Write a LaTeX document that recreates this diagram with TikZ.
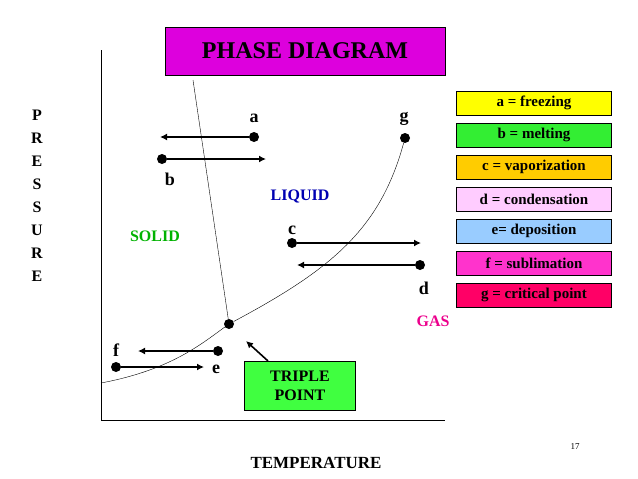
\documentclass[tikz,border=0pt]{standalone}
\usepackage{fontspec}
\setmainfont{Liberation Serif}
\usetikzlibrary{arrows.meta}
\tikzset{
 lbl/.style={font=\bfseries\fontsize{18}{20}\selectfont},
 leg/.style={draw,minimum width=155pt,minimum height=24pt,inner sep=0pt,font=\bfseries\fontsize{15}{17}\selectfont},
 dot/.style={circle,fill,inner sep=0pt,minimum size=10pt},
 arr/.style={-{Latex[length=7pt,width=7pt]},line width=1.6pt},
}
\begin{document}
\begin{tikzpicture}[x=1pt,y=-1pt]
\useasboundingbox (0,0) rectangle (638,479);
\definecolor{tc}{HTML}{DD00DD}
\node[draw,fill=tc,minimum width=280pt,minimum height=48pt,font=\bfseries\fontsize{24}{26}\selectfont] (title) at (305,51) {PHASE DIAGRAM};
\coordinate (ytop) at (101,50); \coordinate (o) at (101,420); \coordinate (xend) at (445,420);
\draw (ytop) -- (o) -- (xend);
\node[align=center,font=\bfseries\fontsize{16}{23}\selectfont] (pres) at (37,196) {P\\R\\E\\S\\S\\U\\R\\E};
\node[font=\bfseries\fontsize{17}{19}\selectfont] (temp) at (316,463) {TEMPERATURE};
\node[font=\fontsize{9}{10}\selectfont] (pg) at (575,447) {17};
% points
\node[dot] (tp) at (229,324) {};
\node[dot] (g) at (405,138) {};
\coordinate (sl) at (193,80);
\coordinate (cs) at (101,383);
\draw (sl) -- (tp);
\draw (cs) .. controls (170,370) and (200,345) .. (tp) .. controls (330,270) and (380,230) .. (g);
\node[dot] (a) at (254,137) {}; \coordinate (a2) at (160,137); \draw[arr] (a) -- (a2);
\node[dot] (b) at (162,159) {}; \coordinate (b2) at (266,159); \draw[arr] (b) -- (b2);
\node[dot] (c) at (292,243) {}; \coordinate (c2) at (421,243); \draw[arr] (c) -- (c2);
\node[dot] (d) at (420,265) {}; \coordinate (d2) at (297,265); \draw[arr] (d) -- (d2);
\node[dot] (e) at (218,351) {}; \coordinate (e2) at (138,351); \draw[arr] (e) -- (e2);
\node[dot] (f) at (116,367) {}; \coordinate (f2) at (204,367); \draw[arr] (f) -- (f2);
\node[lbl] (la) at (254,118) {a};
\node[lbl] (lb) at (170,179) {b};
\node[lbl] (lc) at (292,230) {c};
\node[lbl] (ld) at (424,288) {d};
\node[lbl] (le) at (216,369) {e};
\node[lbl] (lf) at (116,350) {f};
\node[lbl] (lg) at (404,119) {g};
\node[text=blue!70!black,font=\bfseries\fontsize{16}{18}\selectfont] (liq) at (300,196) {LIQUID};
\node[text=green!70!black,font=\bfseries\fontsize{16}{18}\selectfont] (sol) at (155,236) {SOLID};
\node[text=magenta,font=\bfseries\fontsize{16}{18}\selectfont] (gas) at (433,321) {GAS};
\node[draw,fill=green!75,align=center,minimum width=111pt,minimum height=49pt,font=\bfseries\fontsize{16}{19}\selectfont] (tpb) at (300,386) {TRIPLE\\POINT};
\coordinate (ts) at (268,361);
\coordinate (te) at (246,341);
\draw[arr] (ts) -- (te);
% legend
\definecolor{c1}{HTML}{FFFF00}\definecolor{c2}{HTML}{33EE33}\definecolor{c3}{HTML}{FFCC00}
\definecolor{c4}{HTML}{FFCCFF}\definecolor{c5}{HTML}{99CCFF}\definecolor{c6}{HTML}{FF33CC}\definecolor{c7}{HTML}{FF0066}
\node[leg,fill=c1] (l1) at (534,103) {a = freezing};
\node[leg,fill=c2] (l2) at (534,135) {b = melting};
\node[leg,fill=c3] (l3) at (534,167) {c = vaporization};
\node[leg,fill=c4] (l4) at (534,199) {d = condensation};
\node[leg,fill=c5] (l5) at (534,231) {e= deposition};
\node[leg,fill=c6] (l6) at (534,263) {f = sublimation};
\node[leg,fill=c7] (l7) at (534,295) {g = critical point};
\end{tikzpicture}
\end{document}
